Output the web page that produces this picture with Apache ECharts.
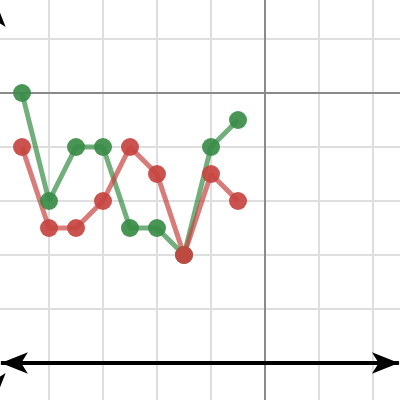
<!DOCTYPE html>
<html>
<head>
<meta charset="utf-8">
<script src="https://cdn.jsdelivr.net/npm/echarts@6/dist/echarts.min.js"></script>
<style>
html,body{margin:0;padding:0;background:#fff;width:400px;height:400px;overflow:hidden;position:relative;}
#c{position:absolute;left:-59px;top:-15px;width:486px;height:432px;}
</style>
</head>
<body>
<div id="c"></div>
<script>
var xValues = [-4.5, -4, -3.5, -3, -2.5, -2, -1.5, -1, -0.5];
var greenValues = [0, -2, -1, -1, -2.5, -2.5, -3, -1, -0.5];
var redValues = [-1, -2.5, -2.5, -2, -1, -1.5, -3, -1.5, -2];
var hArrow = {y: -5, from: -4.89, to: 2.48};
var vArrow = {x: -5, from: -5.685, to: 1.722};

function pairs(xs, ys) { return xs.map(function (x, i) { return [x, ys[i]]; }); }

var chart = echarts.init(document.getElementById('c'), null, {renderer: 'canvas'});
var gridLine = {show: true, lineStyle: {color: '#dedede', width: 2}};
var axisLine = {show: true, onZero: true, lineStyle: {color: '#8a8a8a', width: 2}};
function mk(color, data) {
  return {
    type: 'line', data: data, symbol: 'circle', symbolSize: 18, z: 3,
    lineStyle: {color: color, width: 5, opacity: 0.7},
    itemStyle: {color: color, opacity: 0.92},
    emphasis: {disabled: true}, animation: false
  };
}
chart.setOption({
  animation: false,
  grid: {left: 0, top: 0, right: 0, bottom: 0, containLabel: false},
  xAxis: {type: 'value', min: -6, max: 3, interval: 1, axisLine: axisLine,
          axisTick: {show: false}, axisLabel: {show: false}, splitLine: gridLine},
  yAxis: {type: 'value', min: -6, max: 2, interval: 1, axisLine: axisLine,
          axisTick: {show: false}, axisLabel: {show: false}, splitLine: gridLine},
  series: [
    mk('#388c46', pairs(xValues, greenValues)),
    mk('#c74440', pairs(xValues, redValues)),
    {
      type: 'line', data: [], silent: true, animation: false,
      markLine: {
        silent: true, animation: false, symbol: ['arrow', 'arrow'], symbolSize: [16, 27],
        label: {show: false},
        lineStyle: {color: '#000', width: 4, type: 'solid'},
        emphasis: {disabled: true},
        data: [
          [{coord: [hArrow.from, hArrow.y]}, {coord: [hArrow.to, hArrow.y]}],
          [{coord: [vArrow.x, vArrow.from]}, {coord: [vArrow.x, vArrow.to]}]
        ]
      }
    }
  ]
});
</script>
</body>
</html>
